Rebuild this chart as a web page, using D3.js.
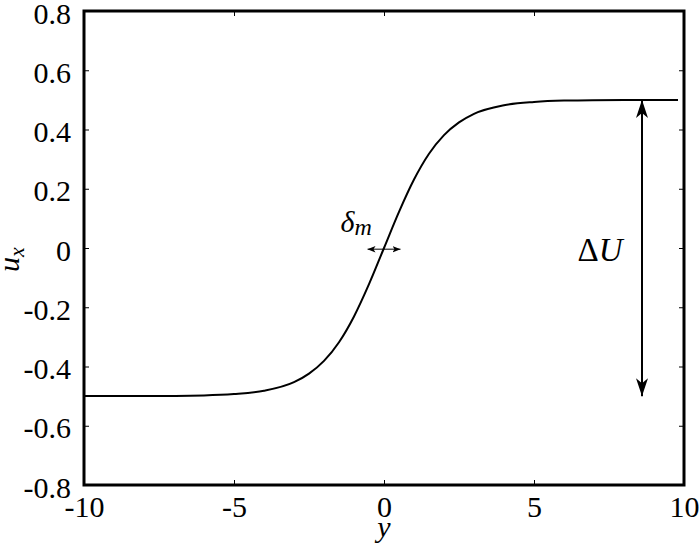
<!DOCTYPE html>
<html>
<head>
<meta charset="utf-8">
<script src="https://cdn.jsdelivr.net/npm/d3@7"></script>
<style>
  body { margin: 0; background: #fff; }
  svg { display: block; }
  .tick text { font-family: "Liberation Serif", "DejaVu Serif", serif; font-size: 30px; fill: #000; }
  .lbl { font-family: "Liberation Serif", "DejaVu Serif", serif; fill: #000; }
</style>
</head>
<body>
<div id="chart"></div>
<script>
// Werte
let yWerte = [-10, -8, -6, -5, -4, -3, -2.5, -2, -1.5, -1, -0.5, 0, 0.5, 1, 1.5, 2, 2.5, 3, 4, 5, 6, 8, 9.8];
let uWerte = [-0.5, -0.4998, -0.4975, -0.493, -0.482, -0.453, -0.424, -0.381, -0.318, -0.231, -0.122, 0,
  0.122, 0.231, 0.318, 0.381, 0.424, 0.453, 0.482, 0.493, 0.4975, 0.4998, 0.5];
let xTicks = [-10, -5, 0, 5, 10];
let xTickLabels = ["-10", "-5", "0", "5", "10"];
let yTicks = [-0.8, -0.6, -0.4, -0.2, 0, 0.2, 0.4, 0.6, 0.8];
let yTickLabels = ["-0.8", "-0.6", "-0.4", "-0.2", "0", "0.2", "0.4", "0.6", "0.8"];

let width = 700,
  height = 548,
  margin = { top: 11, right: 16, bottom: 63, left: 84 };

let x = d3.scaleLinear().domain([-10, 10]).range([margin.left, width - margin.right]);
let y = d3.scaleLinear().domain([-0.8, 0.8]).range([height - margin.bottom, margin.top]);

let svg = d3.select("#chart")
  .append("svg")
  .attr("width", width)
  .attr("height", height);

// Achsen mit nach innen zeigenden Ticks
let unten = d3.axisBottom(x).tickValues(xTicks).tickSize(-5).tickSizeOuter(0)
  .tickPadding(11).tickFormat((d, i) => xTickLabels[i]);
let oben = d3.axisTop(x).tickValues(xTicks).tickSize(-5).tickSizeOuter(0).tickFormat("");
let links = d3.axisLeft(y).tickValues(yTicks).tickSize(-5).tickSizeOuter(0)
  .tickPadding(13).tickFormat((d, i) => yTickLabels[i]);
let rechts = d3.axisRight(y).tickValues(yTicks).tickSize(-5).tickSizeOuter(0).tickFormat("");

function zeichne(g) {
  g.select(".domain").remove();
  g.selectAll(".tick line").attr("stroke", "#000").attr("stroke-width", 1);
}

svg.append("g").attr("transform", "translate(0," + y(-0.8) + ")").call(unten).call(zeichne);
svg.append("g").attr("transform", "translate(0," + y(0.8) + ")").call(oben).call(zeichne);
svg.append("g").attr("transform", "translate(" + x(-10) + ",0)").call(links).call(zeichne)
  .selectAll(".tick text").attr("dy", "0.4em");
svg.append("g").attr("transform", "translate(" + x(10) + ",0)").call(rechts).call(zeichne);

// Kurve
let linie = d3.line()
  .x((d, i) => x(yWerte[i]))
  .y(d => y(d))
  .curve(d3.curveMonotoneX);

svg.append("path")
  .datum(uWerte)
  .attr("d", linie)
  .attr("fill", "none")
  .attr("stroke", "#000")
  .attr("stroke-width", 2);

// Rahmen
svg.append("rect")
  .attr("x", x(-10))
  .attr("y", y(0.8))
  .attr("width", x(10) - x(-10))
  .attr("height", y(-0.8) - y(0.8))
  .attr("fill", "none")
  .attr("stroke", "#000")
  .attr("stroke-width", 3);

// Pfeilspitzen
let defs = svg.append("defs");
defs.append("marker")
  .attr("id", "grossPfeil")
  .attr("viewBox", "0 0 18 12")
  .attr("refX", 18)
  .attr("refY", 6)
  .attr("markerWidth", 18)
  .attr("markerHeight", 12)
  .attr("markerUnits", "userSpaceOnUse")
  .attr("orient", "auto-start-reverse")
  .append("path")
  .attr("d", "M0,0 L18,6 L0,12 L5,6 Z")
  .attr("fill", "#000");

defs.append("marker")
  .attr("id", "kleinPfeil")
  .attr("viewBox", "0 0 8 8")
  .attr("refX", 8)
  .attr("refY", 4)
  .attr("markerWidth", 8)
  .attr("markerHeight", 8)
  .attr("markerUnits", "userSpaceOnUse")
  .attr("orient", "auto-start-reverse")
  .append("path")
  .attr("d", "M0,0.8 L8,4 L0,7.2 L2,4 Z")
  .attr("fill", "#000");

// Pfeil Delta U
let duX = 8.6;
svg.append("line")
  .attr("x1", x(duX)).attr("x2", x(duX))
  .attr("y1", y(-0.5)).attr("y2", y(0.5))
  .attr("stroke", "#000")
  .attr("stroke-width", 2)
  .attr("marker-start", "url(#grossPfeil)")
  .attr("marker-end", "url(#grossPfeil)");

let duText = svg.append("text")
  .attr("class", "lbl")
  .attr("x", x(6.45))
  .attr("y", y(-0.045))
  .style("font-size", "33px");
duText.append("tspan").text("Δ");
duText.append("tspan").style("font-style", "italic").text("U");

// Pfeil delta m
svg.append("line")
  .attr("x1", x(-0.55)).attr("x2", x(0.55))
  .attr("y1", y(-0.004)).attr("y2", y(-0.004))
  .attr("stroke", "#000")
  .attr("stroke-width", 1)
  .attr("marker-start", "url(#kleinPfeil)")
  .attr("marker-end", "url(#kleinPfeil)");

let dmText = svg.append("text")
  .attr("class", "lbl")
  .attr("x", x(-1.45))
  .attr("y", y(0.053))
  .style("font-size", "30px")
  .style("font-style", "italic");
dmText.append("tspan").text("δ");
dmText.append("tspan").attr("dy", 3).style("font-size", "24px").text("m");

// Achsentitel
svg.append("text")
  .attr("class", "lbl")
  .attr("x", x(0))
  .attr("y", 537)
  .attr("text-anchor", "middle")
  .style("font-size", "30px")
  .style("font-style", "italic")
  .text("y");

let uxText = svg.append("text")
  .attr("class", "lbl")
  .attr("transform", "translate(19,272) rotate(-90)")
  .style("font-size", "30px")
  .style("font-style", "italic");
uxText.append("tspan").text("u");
uxText.append("tspan").attr("dy", 5).style("font-size", "22px").text("x");
</script>
</body>
</html>
